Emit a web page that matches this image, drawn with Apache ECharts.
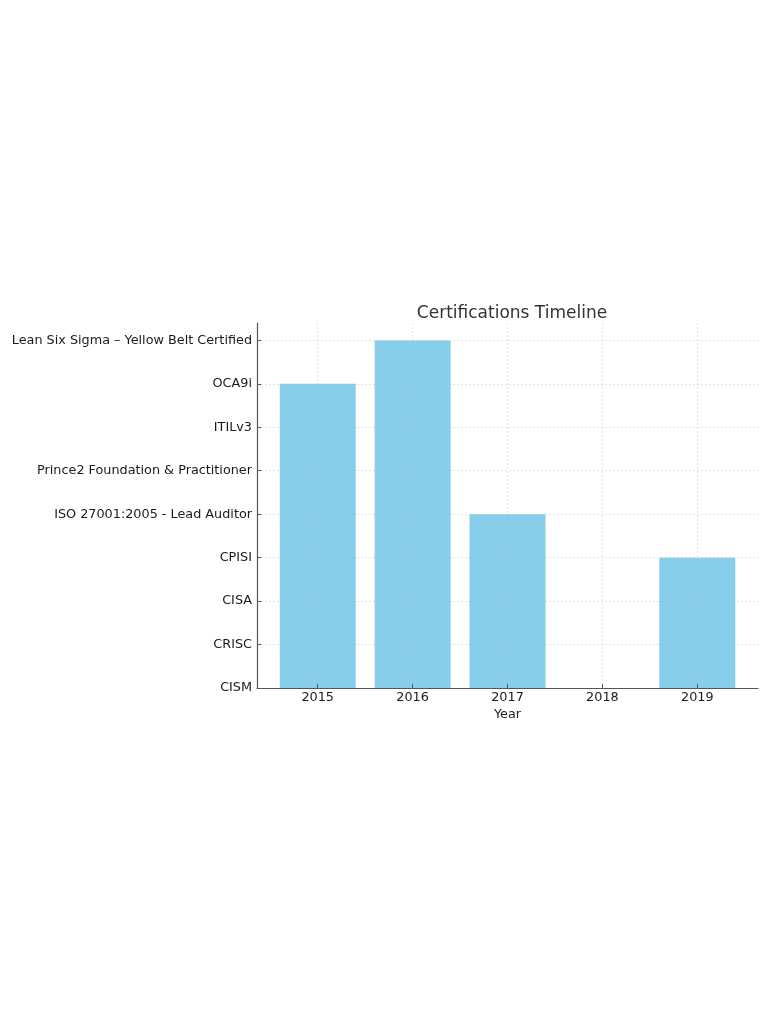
<!DOCTYPE html>
<html>
<head>
<meta charset="utf-8">
<script src="https://cdn.jsdelivr.net/npm/echarts@6/dist/echarts.min.js"></script>
<style>html,body{margin:0;padding:0;background:#fff}#c{width:768px;height:1024px}</style>
</head>
<body>
<div id="c"></div>
<script>
const years = ['2015', '2016', '2017', '2018', '2019'];
const certifications = ['CISM', 'CRISC', 'CISA', 'CPISI', 'ISO 27001:2005 - Lead Auditor',
  'Prince2 Foundation & Practitioner', 'ITILv3', 'OCA9i', 'Lean Six Sigma – Yellow Belt Certified'];
const certIndex = [7, 8, 4, 0, 3];

const yTicks = certifications.map((_, i) => i);
const xTicks = years.map((_, i) => i);
const font = 'DejaVu Sans';

const chart = echarts.init(document.getElementById('c'));
chart.setOption({
  animation: false,
  backgroundColor: '#fff',
  title: {
    text: 'Certifications Timeline', left: 507, top: 300, textAlign: 'center',
    textStyle: { fontFamily: font, fontSize: 17, fontWeight: 'normal', color: '#333' }
  },
  grid: { left: 257, right: 10, top: 323, bottom: 336, containLabel: false },
  xAxis: {
    type: 'value', min: -0.64, max: 4.64, z: 5,
    name: 'Year', nameLocation: 'middle', nameGap: 20,
    nameTextStyle: { fontFamily: font, fontSize: 12.8, color: '#1a1a1a' },
    axisLine: { show: true, onZero: false, lineStyle: { color: '#555', width: 1.2 } },
    axisTick: { show: true, inside: true, length: 4, customValues: xTicks, lineStyle: { color: '#555' } },
    axisLabel: { customValues: xTicks, fontFamily: font, fontSize: 12.8, color: '#1a1a1a', margin: 3,
      formatter: v => years[Math.round(v)] },
    splitLine: { show: true, lineStyle: { color: 'rgba(170,170,170,0.45)', type: [2, 2], width: 0.8 } }
  },
  yAxis: {
    type: 'value', min: 0, max: 8.4, z: 5,
    axisLine: { show: true, onZero: false, lineStyle: { color: '#555', width: 1.2 } },
    axisTick: { show: true, inside: true, length: 4, customValues: yTicks, lineStyle: { color: '#555' } },
    axisLabel: { customValues: yTicks, fontFamily: font, fontSize: 12.8, color: '#1a1a1a', margin: 5,
      formatter: v => certifications[Math.round(v)] },
    splitLine: { show: true, lineStyle: { color: 'rgba(170,170,170,0.45)', type: [2, 2], width: 0.8 } }
  },
  series: [{
    type: 'bar',
    barWidth: 76,
    itemStyle: { color: '#87CEEB' },
    data: certIndex.map((v, i) => [i, v])
  }]
});
</script>
</body>
</html>
